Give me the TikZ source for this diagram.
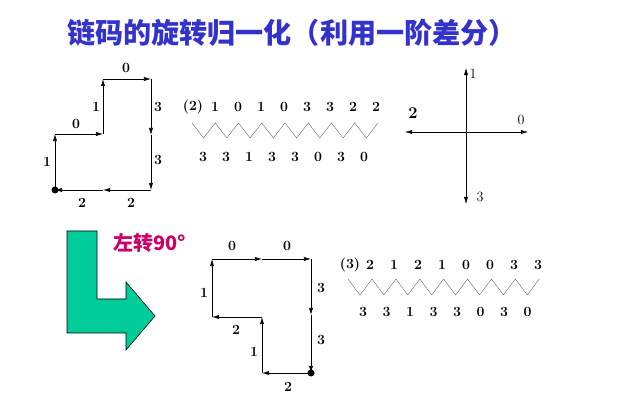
\documentclass[tikz,border=0pt]{standalone}
\usepackage{fontspec}
\newfontfamily\cjk{Noto Sans CJK SC}
\usetikzlibrary{arrows.meta}
\definecolor{titleblue}{RGB}{51,51,204}
\definecolor{turnred}{RGB}{204,0,102}
\definecolor{arrowgreen}{RGB}{0,204,153}
\tikzset{
  seg/.style={-{Latex[length=6pt,width=3.5pt]},line width=0.5pt},
  lab/.style={font=\fontsize{12}{12}\selectfont\bfseries,inner sep=0pt},
  zig/.style={line width=0.3pt,gray!70!black}
}
\begin{document}
\begin{tikzpicture}[x=0.03cm,y=-0.03cm]
\useasboundingbox (0,0) rectangle (637,404);

\node[titleblue,font=\cjk\fontsize{24}{24}\selectfont\bfseries] (title) at (292,33) {链码的旋转归一化（利用一阶差分）};

% first chain
\coordinate (a0) at (55,190);
\coordinate (a1) at (55,134);
\coordinate (a2) at (103,134);
\coordinate (a3) at (103,79);
\coordinate (a4) at (151,79);
\coordinate (a5) at (151,135);
\coordinate (a6) at (151,190);
\coordinate (a7) at (103,190);
\draw[seg] (a0) -- (a1);
\draw[seg] (a1) -- (a2);
\draw[seg] (a2) -- (a3);
\draw[seg] (a3) -- (a4);
\draw[seg] (a4) -- (a5);
\draw[seg] (a5) -- (a6);
\draw[seg] (a6) -- (a7);
\draw[seg] (a7) -- (a0);
\fill (a0) circle (3.5);
\node[lab] (l1) at (47,162) {1};
\node[lab] (l2) at (76,124) {0};
\node[lab] (l3) at (96,107) {1};
\node[lab] (l4) at (126,68) {0};
\node[lab] (l5) at (158,107) {3};
\node[lab] (l6) at (158,160) {3};
\node[lab] (l7) at (131,203) {2};
\node[lab] (l8) at (82,203) {2};

% first zigzag
\draw[zig] (192,123) \foreach \k in {0,...,7} { -- ({203.6+23.25*\k},138) -- ({215.25+23.25*\k},123) };
\node[lab] (p2) at (193,107) {(2)};
\foreach \d [count=\i from 0] in {1,0,1,0,3,3,2,2}
  \node[lab] (ta\i) at ({215+23*\i},107) {\d};
\foreach \d [count=\i from 0] in {3,3,1,3,3,0,3,0}
  \node[lab] (ba\i) at ({203+23*\i},157) {\d};

% axes
\coordinate (xl) at (405,132);
\coordinate (xr) at (528,132);
\coordinate (yt) at (466,68);
\coordinate (yb) at (466,204);
\draw[{Latex[length=6pt,width=3.5pt]}-{Latex[length=6pt,width=3.5pt]}] (xl) -- (xr);
\draw[{Latex[length=6pt,width=3.5pt]}-{Latex[length=6pt,width=3.5pt]}] (yt) -- (yb);
\node[lab,font=\fontsize{12}{12}\selectfont] (d1) at (473,74) {1};
\node[lab,font=\fontsize{12}{12}\selectfont] (d0) at (521,120) {0};
\node[lab,font=\fontsize{12}{12}\selectfont] (d3) at (480,197) {3};
\node[lab,font=\fontsize{14}{14}\selectfont\bfseries] (d2) at (413,113) {2};

% turn arrow
\draw[fill=arrowgreen,line width=0.5pt] (67,231) -- (97,231) -- (97,299) -- (126,299) -- (126,282)
  -- (155,316) -- (126,350) -- (126,333) -- (67,333) -- cycle;
\node[turnred,font=\cjk\fontsize{17}{17}\selectfont\bfseries] (turn) at (150,243) {左转90°};

% second chain
\coordinate (b0) at (311,373);
\coordinate (b1) at (262,373);
\coordinate (b2) at (262,317);
\coordinate (b3) at (212,317);
\coordinate (b4) at (212,259);
\coordinate (b5) at (262,259);
\coordinate (b6) at (311,259);
\coordinate (b7) at (311,315);
\draw[seg] (b0) -- (b1);
\draw[seg] (b1) -- (b2);
\draw[seg] (b2) -- (b3);
\draw[seg] (b3) -- (b4);
\draw[seg] (b4) -- (b5);
\draw[seg] (b5) -- (b6);
\draw[seg] (b6) -- (b7);
\draw[seg] (b7) -- (b0);
\fill (b0) circle (3.5);
\node[lab] (m1) at (288,387) {2};
\node[lab] (m2) at (254,352) {1};
\node[lab] (m3) at (236,330) {2};
\node[lab] (m4) at (204,293) {1};
\node[lab] (m5) at (232,246) {0};
\node[lab] (m6) at (287,246) {0};
\node[lab] (m7) at (321,288) {3};
\node[lab] (m8) at (321,340) {3};

% second zigzag
\draw[zig] (348,279) \foreach \k in {0,...,7} { -- ({360+23.9*\k},295) -- ({372+23.9*\k},279) };
\node[lab] (p3) at (350,265) {(3)};
\foreach \d [count=\i from 0] in {2,1,2,1,0,0,3,3}
  \node[lab] (tb\i) at ({370+24*\i},265) {\d};
\foreach \d [count=\i from 0] in {3,3,1,3,3,0,3,0}
  \node[lab] (bb\i) at ({363+23.5*\i},312) {\d};
\end{tikzpicture}
\end{document}
